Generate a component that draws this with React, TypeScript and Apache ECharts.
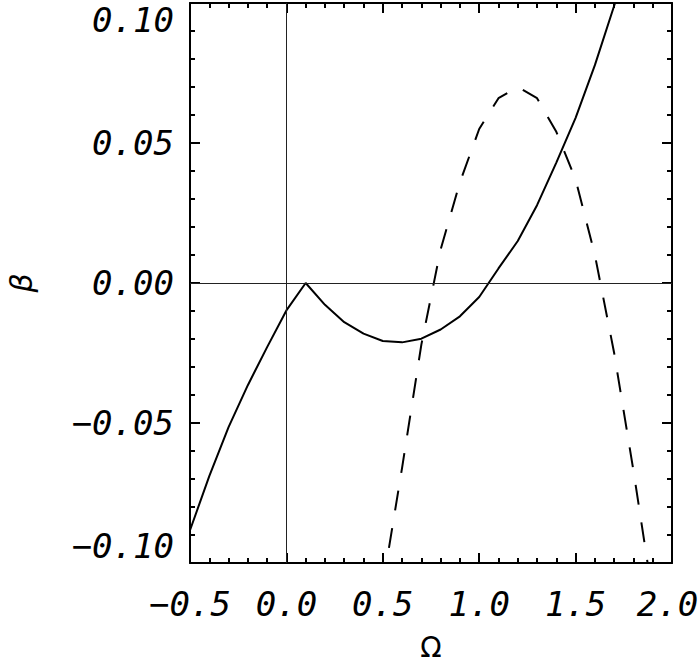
import React, { useEffect, useRef } from "react";
import * as echarts from "echarts";

// Solid curve (Ω, β)
const solidOmega = [-0.5, -0.4, -0.3, -0.2, -0.1, 0.0, 0.1, 0.2, 0.3, 0.4, 0.5, 0.6, 0.7, 0.8, 0.9, 1.0, 1.1, 1.2, 1.3, 1.4, 1.5, 1.6, 1.7, 1.8];
const solidBeta = [-0.0883, -0.069, -0.0515, -0.0365, -0.0229, -0.0098, 0.0, -0.0078, -0.014, -0.0181, -0.0207, -0.0212, -0.0199, -0.0166, -0.0119, -0.005, 0.0052, 0.015, 0.0278, 0.043, 0.059, 0.0778, 0.099, 0.121];

// Dashed curve (Ω, β)
const dashedOmega = [0.5, 0.6, 0.7, 0.8, 0.9, 1.0, 1.1, 1.2, 1.3, 1.4, 1.5, 1.6, 1.7, 1.8, 1.9];
const dashedBeta = [-0.108, -0.066, -0.022, 0.012, 0.036, 0.055, 0.066, 0.07, 0.066, 0.054, 0.037, 0.01, -0.025, -0.067, -0.112];

const xMin = -0.5;
const xMax = 2.0;
const xStep = 0.5;
const yMin = -0.1;
const yMax = 0.1;
const yStep = 0.05;

const LABEL_FONT = "'DejaVu Sans Mono', monospace";

function fmt(v: number, d: number) {
  const s = Math.abs(v) < 1e-9 ? (0).toFixed(d) : v.toFixed(d);
  return s.replace("-", "\u2212");
}

export default function App() {
  const ref = useRef<HTMLDivElement>(null);
  useEffect(() => {
    document.body.style.margin = "0";
    if (!ref.current) return;
    const chart = echarts.init(ref.current, undefined, { renderer: "svg" });
    const tickCommon = {
      axisLine: { show: true, onZero: false, lineStyle: { color: "#000", width: 2 } },
      axisTick: { show: true, inside: true, length: 10, lineStyle: { color: "#000", width: 2 } },
      minorTick: { show: true, splitNumber: 5, length: 5, lineStyle: { color: "#000", width: 2 } },
      splitLine: { show: false },
      minorSplitLine: { show: false },
    };
    chart.setOption({
      animation: false,
      backgroundColor: "#fff",
      grid: { left: 190, right: 28, top: 3, bottom: 101, containLabel: false, outerBoundsMode: "none" },
      xAxis: [
        {
          type: "value",
          position: "bottom",
          min: xMin,
          max: xMax,
          interval: xStep,
          ...tickCommon,
          axisLabel: {
            show: true,
            margin: 24,
            color: "#000",
            fontFamily: LABEL_FONT,
            fontStyle: "italic",
            fontSize: 34,
            formatter: (v: number) => (Math.abs(v - xMax) < 1e-9 ? "{r|" + fmt(v, 1) + "}" : fmt(v, 1)),
            rich: {
              r: {
                color: "#000",
                fontFamily: LABEL_FONT,
                fontStyle: "italic",
                fontSize: 34,
                padding: [0, 9, 0, 0],
              },
            },
          },
          name: "\u03a9",
          nameLocation: "middle",
          nameGap: 70,
          nameTextStyle: { color: "#000", fontFamily: "'DejaVu Sans'", fontSize: 28 },
        },
        {
          type: "value",
          position: "top",
          min: xMin,
          max: xMax,
          interval: xStep,
          ...tickCommon,
          axisLabel: { show: false },
        },
      ],
      yAxis: [
        {
          type: "value",
          position: "left",
          min: yMin,
          max: yMax,
          interval: yStep,
          ...tickCommon,
          axisLabel: {
            show: true,
            margin: 16,
            color: "#000",
            fontFamily: LABEL_FONT,
            fontStyle: "italic",
            fontSize: 34,
            verticalAlignMinLabel: "bottom",
            verticalAlignMaxLabel: "top",
            formatter: (v: number) => fmt(v, 2),
          },
          name: "\u03b2",
          nameLocation: "middle",
          nameGap: 154,
          nameRotate: 90,
          nameTextStyle: { color: "#000", fontFamily: "'DejaVu Sans'", fontStyle: "italic", fontSize: 30 },
        },
        {
          type: "value",
          position: "right",
          min: yMin,
          max: yMax,
          interval: yStep,
          ...tickCommon,
          axisLabel: { show: false },
        },
      ],
      series: [
        {
          type: "line",
          data: solidOmega.map((x, i) => [x, solidBeta[i]]),
          showSymbol: false,
          symbol: "none",
          clip: true,
          lineStyle: { color: "#000", width: 2 },
          markLine: {
            silent: true,
            symbol: "none",
            label: { show: false },
            lineStyle: { color: "#222", width: 1, type: "solid" },
            data: [{ xAxis: 0 }, { yAxis: 0 }],
          },
        },
        {
          type: "line",
          data: dashedOmega.map((x, i) => [x, dashedBeta[i]]),
          showSymbol: false,
          symbol: "none",
          clip: true,
          lineStyle: { color: "#000", width: 2, type: [20, 18] },
        },
      ],
    });
    return () => chart.dispose();
  }, []);
  return <div ref={ref} style={{ width: 700, height: 664 }} />;
}
